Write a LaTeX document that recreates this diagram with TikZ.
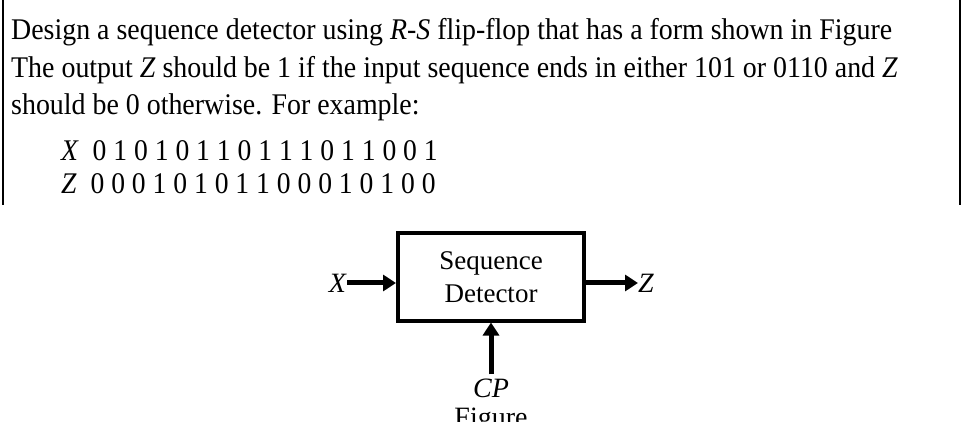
\documentclass[tikz,border=0pt]{standalone}
\usepackage{fontspec}
\setmainfont{Liberation Serif}
\usetikzlibrary{arrows.meta}
\tikzset{
  txt/.style={anchor=west,inner sep=0pt,font=\fontsize{30}{30}\selectfont},
  lbl/.style={inner sep=0pt,font=\fontsize{28}{28}\selectfont},
  sig/.style={line width=5pt,-{Triangle[length=13pt,width=16pt]}},
}
\begin{document}
\begin{tikzpicture}[x=1pt,y=-1pt]
\useasboundingbox (0,0) rectangle (975,422);
\clip (0,0) rectangle (975,422);
\draw[line width=1.5pt] (3,0) -- (3,205);
\draw[line width=1.5pt] (960,0) -- (960,205);
\node[txt] (l1) at (11,32) {\scalebox{0.93}[1]{Design a sequence detector using \textit{R-S} flip-flop that has a form shown in Figure}};
\node[txt] (l2) at (11,70) {\scalebox{0.93}[1]{The output \textit{Z} should be 1 if the input sequence ends in either 101 or 0110 and \textit{Z}}};
\node[txt] (l3) at (11,107) {\scalebox{0.93}[1]{should be 0 otherwise. For example:}};
\node[txt] (sx) at (61,151) {\scalebox{0.92}[1]{\textit{X}\ \ 0 1 0 1 0 1 1 0 1 1 1 0 1 1 0 0 1}};
\node[txt] (sz) at (61,184) {\scalebox{0.92}[1]{\textit{Z}\ \ 0 0 0 1 0 1 0 1 1 0 0 0 1 0 1 0 0}};
\node[draw,line width=4pt,minimum width=186pt,minimum height=87pt,align=center,font=\fontsize{27}{33}\selectfont] (box) at (491,277) {Sequence\\Detector};
\node[lbl,anchor=east] (x) at (347,283) {\textit{X}};
\node[lbl,anchor=west] (z) at (638,283) {\textit{Z}};
\node[lbl] (cp) at (491,388) {\textit{CP}};
\node[lbl,anchor=north] (fig) at (491,408) {Figure};
\draw[sig] (x.east) -- (x.east -| box.west);
\draw[sig] (z.west -| box.east) -- (z.west);
\draw[sig] (cp.north) ++(0,-4) -- (box.south);
\end{tikzpicture}
\end{document}
